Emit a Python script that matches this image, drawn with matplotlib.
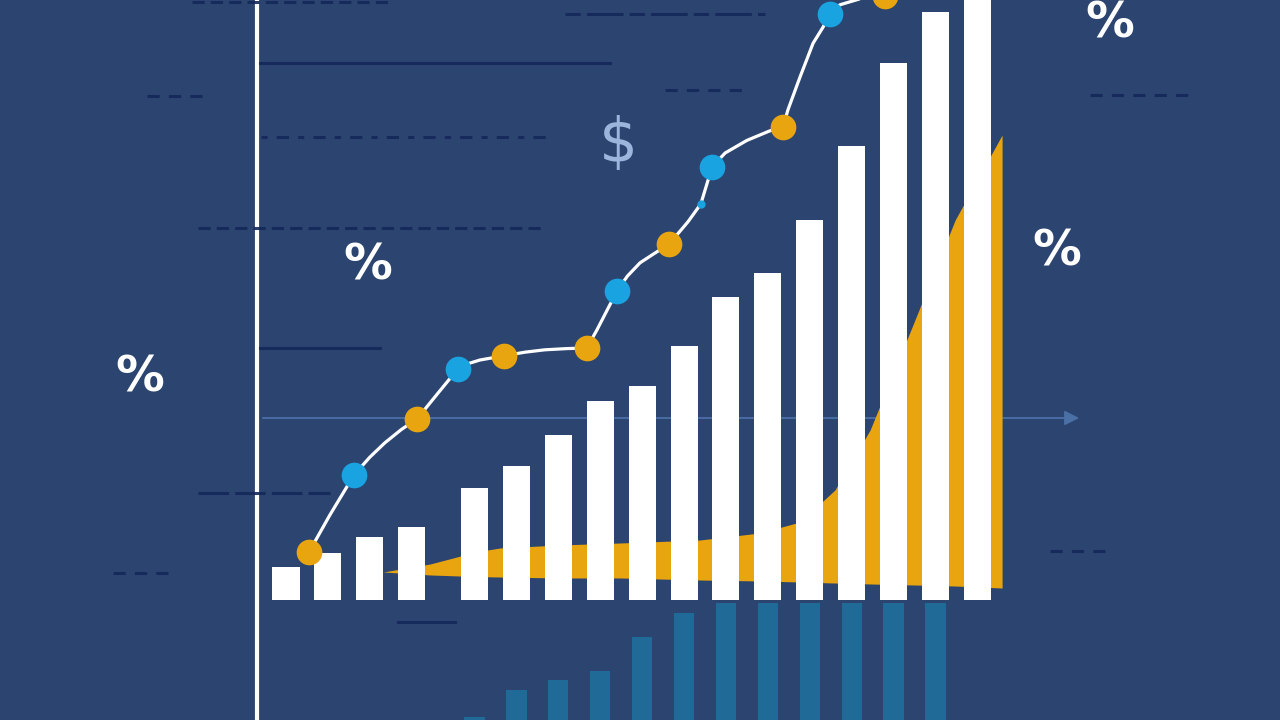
import matplotlib
matplotlib.use("Agg")
import matplotlib.pyplot as plt
from matplotlib.lines import Line2D

# ---- data (x = bar slot, y = value, 0 = baseline) ----
bar_x = [0, 1, 2, 3, 4.5, 5.5, 6.5, 7.5, 8.5, 9.5, 10.5, 11.5, 12.5, 13.5, 14.5, 15.5, 16.5]
bar_h = [5.5, 7.8, 10.5, 12.2, 18.7, 22.3, 27.5, 33.2, 35.7, 42.3, 50.5, 54.5, 63.3,
         75.7, 89.5, 98.0, 104.0]

# teal bars rising from the bottom edge (value -20)
teal_x = [4.5, 5.5, 6.5, 7.5, 8.5, 9.5, 10.5, 11.5, 12.5, 13.5, 14.5, 15.5]
teal_h = [0.5, 5.0, 6.7, 8.2, 13.8, 17.8, 19.5, 19.5, 19.5, 19.5, 19.5, 19.5]

# gold area behind the bars
area_x = [2.32, 3.44, 4.15, 4.60, 5.11, 6.54, 7.97, 9.88, 11.31, 12.27, 13.10, 13.94, 15.01, 15.97, 17.09]
area_top = [4.67, 6.0, 7.3, 8.1, 8.67, 9.17, 9.5, 10.0, 11.17, 13.0, 18.33, 28.33, 46.67, 63.33, 77.5]
area_bot = [4.67, 4.17, 4.0, 3.9, 3.83, 3.67, 3.67, 3.33, 3.17, 3.0, 2.83, 2.67, 2.5, 2.33, 2.0]

# white curve, points
curve_x = [0.55, 1.05, 1.62, 2.0, 2.36, 2.75, 3.13, 3.63, 4.10, 4.35, 4.63, 5.20, 5.70, 6.18,
           6.70, 7.18, 7.42, 7.90, 8.15, 8.45, 8.80, 9.14, 9.59, 9.90, 10.17, 10.48, 11.0,
           11.55, 11.86, 11.98, 12.27, 12.58, 12.82, 12.98, 13.22, 13.70, 14.30]
curve_y = [8.0, 14.2, 20.8, 23.8, 26.2, 28.4, 30.2, 34.5, 38.5, 39.4, 40.0, 40.7, 41.3, 41.7,
           41.9, 42.0, 45.0, 51.5, 54.0, 56.2, 57.8, 59.3, 63.0, 66.0, 72.2, 74.5, 76.6,
           78.2, 78.8, 81.7, 87.2, 92.8, 95.5, 97.7, 99.2, 100.2, 100.6]

orange_x = [0.55, 3.13, 5.20, 7.18, 9.14, 11.86, 14.30]
orange_y = [8.0, 30.2, 40.7, 42.0, 59.3, 78.8, 100.6]
blue_x = [1.62, 4.10, 7.90, 10.17, 12.98]
blue_y = [20.8, 38.5, 51.5, 72.2, 97.7]
small_blue_x = [9.90]
small_blue_y = [66.0]

symbols = ["%", "%", "%", "%", "$"]

BG = "#2c4470"
NAVY = "#14295a"
GOLD = "#e8a50f"
BLUE = "#19a3e0"
TEAL = "#1f6a96"

fig = plt.figure(figsize=(12.8, 7.2), dpi=100)
fig.patch.set_facecolor(BG)
ax = fig.add_axes([0, 0, 1, 1])
ax.set_facecolor(BG)
ax.set_xlim(-286 / 41.9, (1280 - 286) / 41.9)
ax.set_ylim(-20, 100)
ax.axis("off")

# decorative faint grid strokes (figure fraction)
W, H = 1280.0, 720.0
decor = [
    (192, 392, 2, (4, 2)), (565, 765, 14, (5, 2, 12, 2)), (260, 610, 63, None),
    (147, 208, 96, (4, 3)), (665, 745, 90, (4, 3)), (1090, 1190, 95, (4, 3)),
    (261, 551, 137, (2, 3, 4, 3)), (198, 545, 228, (4, 2)), (260, 380, 348, None),
    (198, 330, 493, (10, 2)), (113, 173, 573, (4, 3)), (1050, 1110, 551, (4, 3)),
    (398, 455, 622, None),
]
for x0, x1, y, dash in decor:
    ln = Line2D([x0 / W, x1 / W], [1 - y / H, 1 - y / H], transform=fig.transFigure,
                color=NAVY, lw=2.2, alpha=0.9, zorder=1)
    if dash:
        ln.set_dashes(dash)
    fig.add_artist(ln)

# thin arrow across the chart
ax.annotate("", xy=(1082 / W, 1 - 418 / H), xytext=(260 / W, 1 - 418 / H),
            xycoords="figure fraction", textcoords="figure fraction",
            arrowprops=dict(arrowstyle="-|>", color="#4a70a6", lw=1.3,
                            mutation_scale=22), zorder=1)

# white vertical axis line
ax.axvline((257 - 286) / 41.9, color="white", lw=3, zorder=5)

ax.bar(teal_x, teal_h, bottom=-20, width=0.48, color=TEAL, zorder=2)
ax.fill_between(area_x, area_bot, area_top, color=GOLD, lw=0, zorder=3)
ax.bar(bar_x, bar_h, width=0.645, color="white", zorder=4)

ax.plot(curve_x, curve_y, color="white", lw=2.3, zorder=6,
        solid_capstyle="round", solid_joinstyle="round")
ax.plot(orange_x, orange_y, "o", color=GOLD, ms=18.5, mec="none", zorder=7)
ax.plot(blue_x, blue_y, "o", color=BLUE, ms=18.5, mec="none", zorder=7)
ax.plot(small_blue_x, small_blue_y, "o", color=BLUE, ms=6, mec="none", zorder=7)

sym_pos = [(140, 378), (368, 265), (1057, 252), (1110, 24), (618, 145)]
for s, (px, py) in zip(symbols, sym_pos):
    if s == "$":
        fig.text(px / W, 1 - py / H, s, color="#9bb5dc", fontsize=44,
                 ha="center", va="center", family="DejaVu Sans", zorder=8)
    else:
        fig.text(px / W, 1 - py / H, s, color="white", fontsize=35, fontweight="bold",
                 ha="center", va="center", family="DejaVu Sans", zorder=8)

fig.savefig("out.png", dpi=100, facecolor=BG)
